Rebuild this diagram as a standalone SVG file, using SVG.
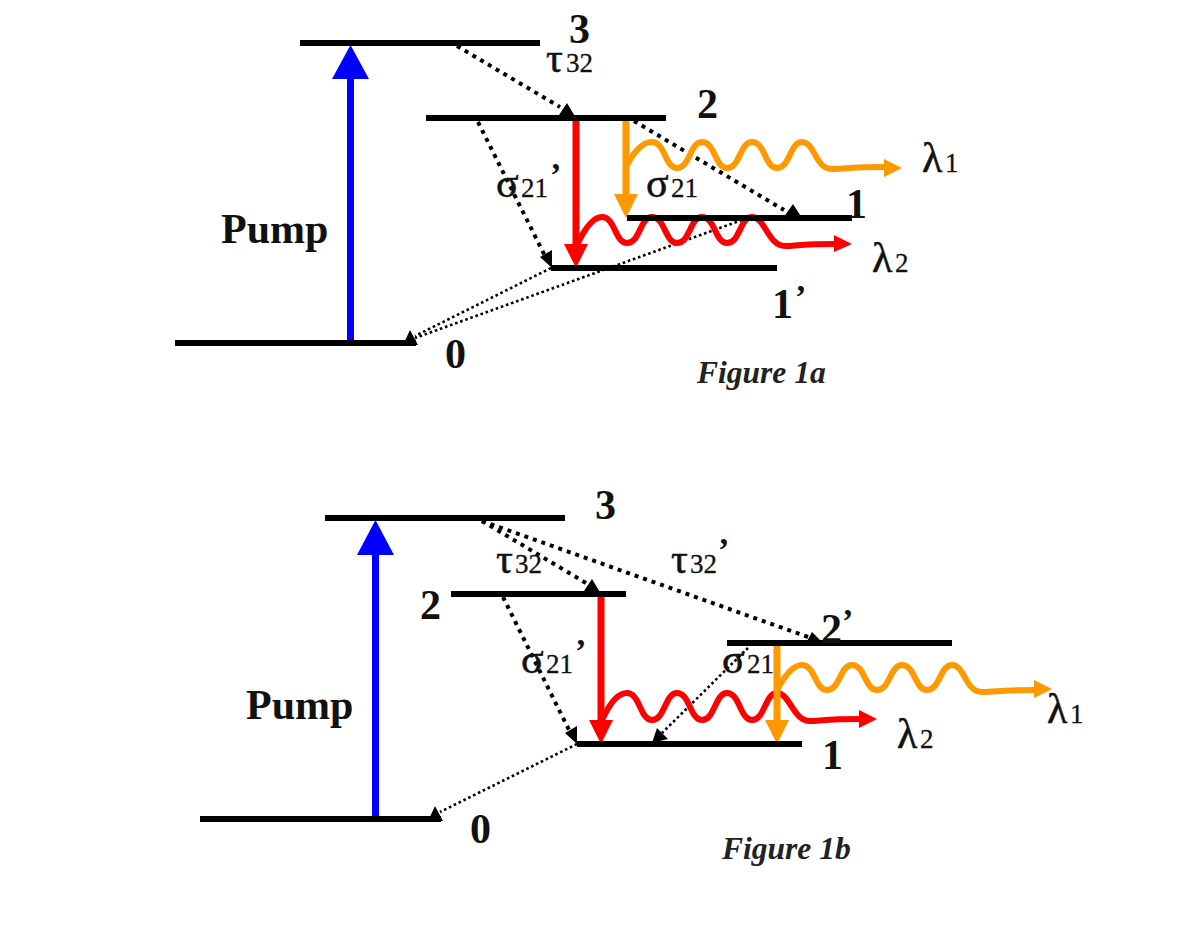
<svg xmlns="http://www.w3.org/2000/svg" width="1196" height="950" viewBox="0 0 1196 950">
<style>
text{font-family:"Liberation Serif","Times New Roman",serif;fill:#111}
.n{font-size:42px;font-weight:bold}
.g{font-size:42px;stroke:#111;stroke-width:.5}
.s{font-size:27px;stroke:#111;stroke-width:.3}
.a{font-size:34px;font-weight:bold}
.p{font-size:42px;font-weight:bold}
.f{font-size:31.5px;font-weight:bold;font-style:italic;fill:#222}
.lv{stroke:#000;stroke-width:6;fill:none}
.d{stroke:#000;stroke-width:4;stroke-dasharray:4 5;fill:none}
.t{stroke:#000;stroke-width:2.6;stroke-dasharray:2.6 2.8;fill:none}
.w{fill:none;stroke-width:6;stroke-linecap:round;stroke-linejoin:round}
.red{stroke:#f00}.or{stroke:#f90}.bl{stroke:#00f}
.fr{fill:#f00}.fo{fill:#f90}.fb{fill:#00f}
.v{stroke-width:7;fill:none}
</style>
<g id="connectors">
<g id="dotted-a">
<path class="d" d="M457 46L560 107"/><polygon points="567,103 576,118 557,118"/>
<path class="d" d="M634 121L784 210"/><polygon points="793,204 802,218 783,218"/>
<path class="d" d="M478 122L545 256"/><polygon points="552,250 552,268 540,257"/>
<path class="t" d="M551 268L415 336"/><path class="t" d="M742 220L415 338"/><polygon points="410,330 418,345 403,345"/>
</g>
<g id="dotted-b">
<path class="d" d="M482 521L586 583"/><polygon points="592,579 601,594 582,594"/>
<path class="d" d="M482 521L808 637"/><polygon points="812,632 823,643 806,643"/>
<path class="d" d="M503 597L570 732"/><polygon points="577,726 577,744 565,733"/>
<path class="t" d="M577 744L440 812"/><polygon points="435,806 443,821 428,821"/>
<path class="t" d="M748 648L662 733"/><polygon points="657,728 668,739 652,743"/>
</g>
<g id="pump-a"><path class="bl v" d="M350.500 343V76"/><polygon class="fb" points="350.500,45 369,79 332,79"/></g>
<g id="pump-b"><path class="bl v" d="M375.500 819V552"/><polygon class="fb" points="375.500,520 394,555 357,555"/></g>
<g id="red-a"><path class="red v" d="M576 118V248"/><polygon class="fr" points="576,268 564,244 588,244"/>
<path class="w red" d="M577 245C585 228 593 217 602 217C615 217 615 243 627 243C640 243 640 217 652 217C665 217 665 243 677 243C690 243 690 217 702 217C715 217 715 243 727 243C740 243 740 217 752 217C765 217 768 246 785 246C795 246 800 244 838 244"/>
<polygon class="fr" points="852,244 834,235 834,252"/></g>
<g id="orange-a"><path class="or v" d="M626 118V198"/><polygon class="fo" points="626,218 614,194 638,194"/>
<path class="w or" d="M627 165C635 150 643 142 652 142C665 142 665 168 677 168C690 168 690 142 702 142C715 142 715 168 727 168C740 168 740 142 752 142C765 142 765 168 777 168C790 168 790 142 802 142C815 142 815 169 832 169C842 169 850 167 888 167"/>
<polygon class="fo" points="902,168 884,159 884,177"/></g>
<g id="red-b"><path class="red v" d="M601 594V724"/><polygon class="fr" points="601,744 589,720 613,720"/>
<path class="w red" d="M603 718C610 703 618 693 627 693C640 693 640 720 652 720C665 720 665 693 677 693C690 693 690 720 702 720C715 720 715 693 727 693C740 693 740 720 752 720C765 720 765 693 777 693C790 693 793 721 810 721C820 721 825 719 863 719"/>
<polygon class="fr" points="877,719 859,710 859,728"/></g>
<g id="orange-b"><path class="or v" d="M777 644V724"/><polygon class="fo" points="777,744 765,720 789,720"/>
<path class="w or" d="M777 690C785 675 793 665 802 665C815 665 815 690 827 690C840 690 840 665 852 665C865 665 865 690 877 690C890 690 890 665 902 665C915 665 915 690 927 690C940 690 940 665 952 665C965 665 965 692 982 692C992 692 1000 690 1038 690"/>
<polygon class="fo" points="1052,689 1034,680 1034,698"/></g>
</g>
<g id="fig-a">
<g id="a3"><path class="lv" d="M300 43H540"/><text class="n" x="569" y="43">3</text></g>
<g id="a2"><path class="lv" d="M426 118H666"/><text class="n" x="697" y="118">2</text></g>
<g id="a1"><path class="lv" d="M627 218H852"/><text class="n" x="846" y="218">1</text></g>
<g id="a1p"><path class="lv" d="M551 268H777"/><text class="n" x="772" y="318">1</text><text class="a" x="795" y="308">’</text></g>
<g id="a0"><path class="lv" d="M175 343H416"/><text class="n" x="445" y="368">0</text></g>
<text class="p" x="221" y="243">Pump</text>
<text class="g" x="546" y="72">τ<tspan class="s" x="566">32</tspan></text>
<text class="g" x="496" y="197">σ<tspan class="s" x="521">21</tspan></text><text class="a" x="550" y="186">’</text>
<text class="g" x="646" y="197">σ<tspan class="s" x="671">21</tspan></text>
<text class="g" x="922" y="172">λ<tspan class="s" x="945">1</tspan></text>
<text class="g" x="872" y="272">λ<tspan class="s" x="895">2</tspan></text>
<text class="f" x="697" y="383">Figure 1a</text>
</g>
<g id="fig-b">
<g id="b3"><path class="lv" d="M325 518H565"/><text class="n" x="595" y="519">3</text></g>
<g id="b2"><path class="lv" d="M451 594H626"/><text class="n" x="420" y="619">2</text></g>
<g id="b2p"><path class="lv" d="M727 643H952"/><text class="n" x="821" y="643">2</text><text class="a" x="842" y="632">’</text></g>
<g id="b1"><path class="lv" d="M577 744H802"/><text class="n" x="822" y="769">1</text></g>
<g id="b0"><path class="lv" d="M200 819H441"/><text class="n" x="470" y="843">0</text></g>
<text class="p" x="246" y="719">Pump</text>
<text class="g" x="496" y="573">τ<tspan class="s" x="515">32</tspan></text>
<text class="g" x="671" y="573">τ<tspan class="s" x="690">32</tspan></text><text class="a" x="718" y="561">’</text>
<text class="g" x="521" y="673">σ<tspan class="s" x="546">21</tspan></text><text class="a" x="575" y="662">’</text>
<text class="g" x="722" y="673">σ<tspan class="s" x="747">21</tspan></text>
<text class="g" x="1047" y="723">λ<tspan class="s" x="1070">1</tspan></text>
<text class="g" x="897" y="748">λ<tspan class="s" x="920">2</tspan></text>
<text class="f" x="722" y="859">Figure 1b</text>
</g>
</svg>
